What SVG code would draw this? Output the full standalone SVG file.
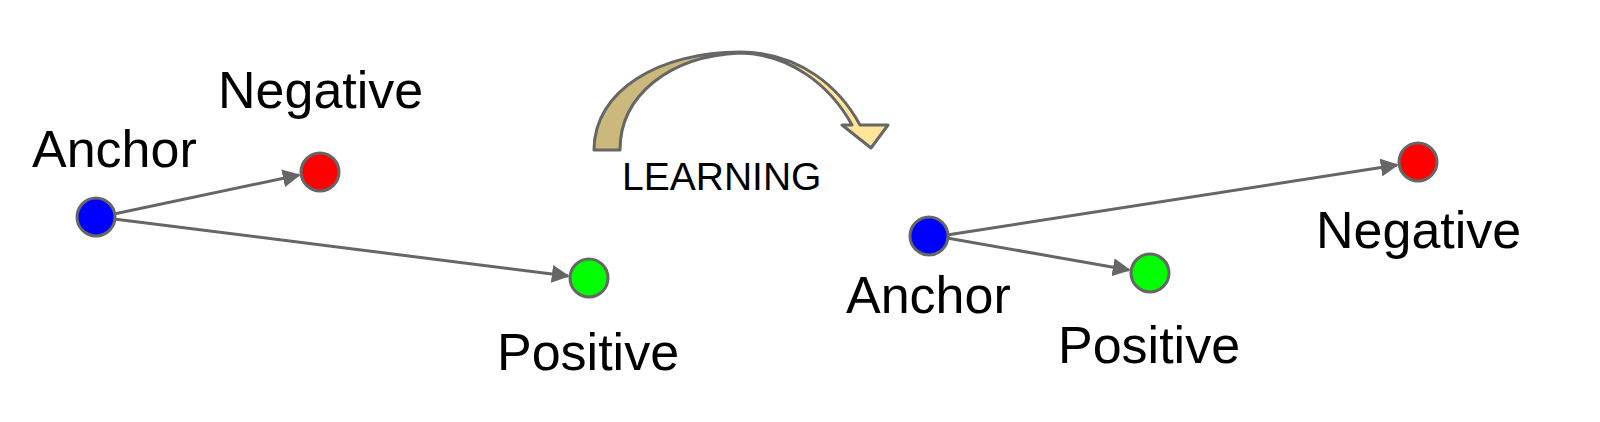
<svg xmlns="http://www.w3.org/2000/svg" width="1600" height="422" viewBox="0 0 1600 422">
<style>
text{font-family:"Liberation Sans",Arial,sans-serif;fill:#000}
.lbl{font-size:52px}
.n{stroke:#666;stroke-width:3}
.c{stroke:#666;stroke-width:3;fill:none;marker-end:url(#ah)}
</style>
<defs>
<marker id="ah" viewBox="0 0 10 10" refX="9" refY="5" markerWidth="6" markerHeight="6" orient="auto" markerUnits="strokeWidth"><path d="M0,0L10,5L0,10Z" fill="#666"/></marker>
<linearGradient id="g" x1="594" y1="0" x2="890" y2="0" gradientUnits="userSpaceOnUse"><stop offset="0.49" stop-color="#cbb87c"/><stop offset="0.49" stop-color="#ffe49a"/></linearGradient>
</defs>
<rect width="1600" height="422" fill="#fff"/>
<g id="connectors">
<line class="c" x1="114" y1="214" x2="299" y2="175"/>
<line class="c" x1="114" y1="219" x2="568" y2="276"/>
<line class="c" x1="947" y1="235" x2="1397" y2="165"/>
<line class="c" x1="947" y1="238" x2="1129" y2="270"/>
</g>
<g id="learning-arrow">
<path d="M594,150 C594,90 660,52 740,52 C800,52 840,88 860,125 L888,125 L871,148 L842,125 L852,125 C830,85 790,54 740,53 C670,56 620,95 620,150 Z" fill="url(#g)" stroke="#666" stroke-width="3" stroke-linejoin="round"/>
<text x="622" y="190" font-size="39">LEARNING</text>
</g>
<g id="anchor-left"><circle class="n" cx="96" cy="217" r="19" fill="#0000ff"/><text class="lbl" x="32" y="167">Anchor</text></g>
<g id="negative-left"><circle class="n" cx="320" cy="172" r="19" fill="#ff0000"/><text class="lbl" x="218" y="108">Negative</text></g>
<g id="positive-left"><circle class="n" cx="589" cy="278" r="19" fill="#00ff00"/><text class="lbl" x="497" y="370">Positive</text></g>
<g id="anchor-right"><circle class="n" cx="929" cy="236" r="19" fill="#0000ff"/><text class="lbl" x="846" y="313">Anchor</text></g>
<g id="negative-right"><circle class="n" cx="1418" cy="162" r="19" fill="#ff0000"/><text class="lbl" x="1316" y="248">Negative</text></g>
<g id="positive-right"><circle class="n" cx="1150" cy="273" r="19" fill="#00ff00"/><text class="lbl" x="1058" y="363">Positive</text></g>
</svg>
